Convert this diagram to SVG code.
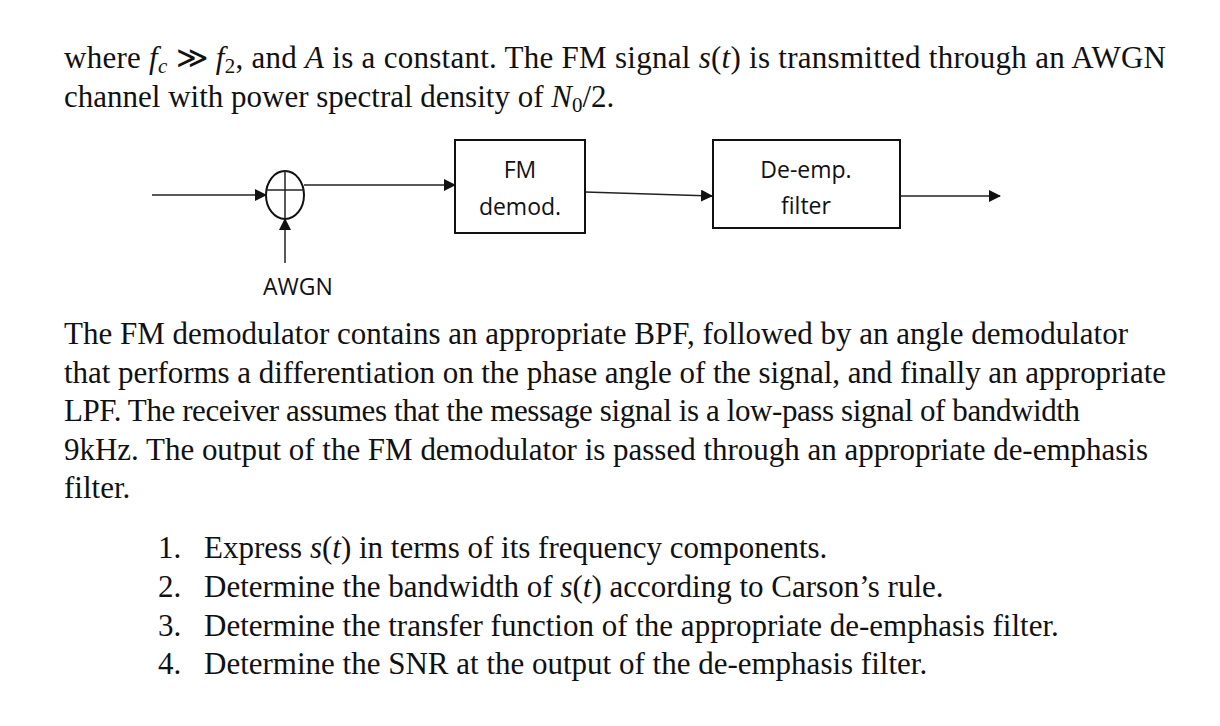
<svg xmlns="http://www.w3.org/2000/svg" width="1220" height="726" viewBox="0 0 1220 726">
<style>
.t{font-family:"Liberation Serif","Times New Roman",serif;font-size:31px;fill:#111}
.i{font-style:italic}
.s{font-family:"Open Sans","Liberation Sans",sans-serif;font-size:23px;fill:#111}
.ln{stroke:#222;stroke-width:1.5;fill:none}
.bx{stroke:#111;stroke-width:2;fill:#fff}
</style>
<defs><marker id="a" markerWidth="12" markerHeight="12" refX="11" refY="6" orient="auto" markerUnits="userSpaceOnUse"><path d="M0,0 L12,6 L0,12 Z" fill="#111"/></marker></defs>
<rect width="1220" height="726" fill="#fff"/>
<text class="t" x="64" y="68" textLength="1102" lengthAdjust="spacing">where <tspan class="i">f</tspan><tspan class="i" font-size="21" dy="5">c</tspan><tspan dy="-5"> ≫ </tspan><tspan class="i">f</tspan><tspan font-size="21" dy="5">2</tspan><tspan dy="-5">, and </tspan><tspan class="i">A</tspan> is a constant. The FM signal <tspan class="i">s</tspan>(<tspan class="i">t</tspan>) is transmitted through an AWGN</text>
<text class="t" x="64" y="107">channel with power spectral density of <tspan class="i">N</tspan><tspan font-size="21" dy="5">0</tspan><tspan dy="-5">/2.</tspan></text>
<g id="connectors">
<line class="ln" x1="152" y1="195" x2="266" y2="195" marker-end="url(#a)"/>
<line class="ln" x1="304" y1="185" x2="455" y2="185" marker-end="url(#a)"/>
<line class="ln" x1="585" y1="192" x2="712" y2="196" marker-end="url(#a)"/>
<line class="ln" x1="900" y1="196" x2="1000" y2="196" marker-end="url(#a)"/>
<line class="ln" x1="285" y1="263" x2="285" y2="219" marker-end="url(#a)"/>
</g>
<g id="sum">
<ellipse cx="285" cy="195" rx="19" ry="24" fill="#fff" stroke="#111" stroke-width="2"/>
<line class="ln" x1="266" y1="190" x2="304" y2="190" stroke-width="2"/>
<line class="ln" x1="285" y1="171" x2="285" y2="219" stroke-width="2"/>
</g>
<g id="fm"><rect class="bx" x="455" y="140" width="130" height="93"/>
<text class="s" x="520" y="178" text-anchor="middle">FM</text>
<text class="s" x="520" y="215" text-anchor="middle">demod.</text></g>
<g id="deemp"><rect class="bx" x="713" y="140" width="187" height="88"/>
<text class="s" x="806" y="178" text-anchor="middle">De-emp.</text>
<text class="s" x="806" y="214" text-anchor="middle">filter</text></g>
<g id="awgn"><text class="s" x="298" y="295" text-anchor="middle">AWGN</text></g>
<text class="t" x="64" y="344" textLength="1064" lengthAdjust="spacing">The FM demodulator contains an appropriate BPF, followed by an angle demodulator</text>
<text class="t" x="64" y="383" textLength="1102" lengthAdjust="spacing">that performs a differentiation on the phase angle of the signal, and finally an appropriate</text>
<text class="t" x="64" y="421" textLength="1016" lengthAdjust="spacing">LPF. The receiver assumes that the message signal is a low-pass signal of bandwidth</text>
<text class="t" x="64" y="460" textLength="1084" lengthAdjust="spacing">9kHz. The output of the FM demodulator is passed through an appropriate de-emphasis</text>
<text class="t" x="64" y="498">filter.</text>
<text class="t" x="158" y="558">1.</text><text class="t" x="204" y="558">Express <tspan class="i">s</tspan>(<tspan class="i">t</tspan>) in terms of its frequency components.</text>
<text class="t" x="158" y="597">2.</text><text class="t" x="204" y="597">Determine the bandwidth of <tspan class="i">s</tspan>(<tspan class="i">t</tspan>) according to Carson’s rule.</text>
<text class="t" x="158" y="636">3.</text><text class="t" x="204" y="636">Determine the transfer function of the appropriate de-emphasis filter.</text>
<text class="t" x="158" y="674">4.</text><text class="t" x="204" y="674">Determine the SNR at the output of the de-emphasis filter.</text>
</svg>
